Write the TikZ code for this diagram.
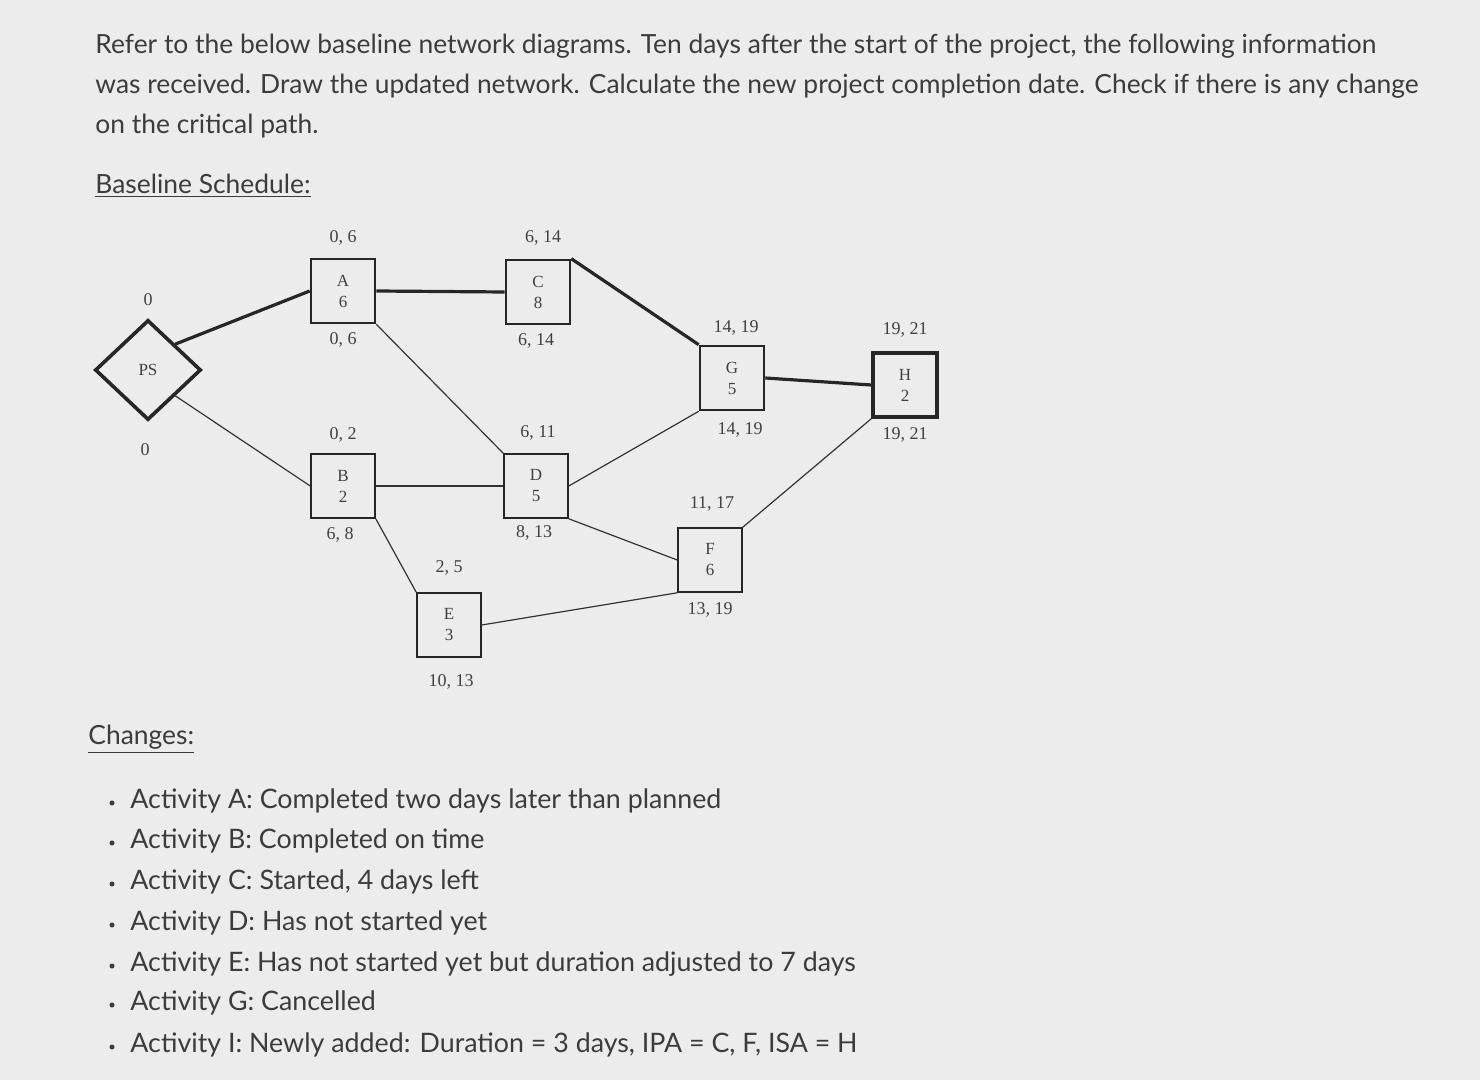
\documentclass[tikz,border=0pt]{standalone}
\usepackage{fontspec}
\setmainfont{Lato}
\newfontfamily\netfont{Liberation Serif}
\usetikzlibrary{shapes.geometric}
\definecolor{bg}{RGB}{236,236,236}
\definecolor{txt}{RGB}{60,60,60}
\tikzset{
  para/.style={anchor=west,inner sep=0pt,text=txt,font=\fontsize{13.2}{15}\selectfont},
  bul/.style={anchor=west,inner sep=0pt,text=txt,font=\fontsize{13.4}{15}\selectfont},
  actbox/.style={draw=black!85,line width=1.3pt,minimum size=32pt,inner sep=0pt,align=center,font=\netfont\fontsize{8.5}{10.5}\selectfont,text=black!75},
  thinbox/.style={actbox,line width=0.8pt},
  lab/.style={font=\netfont\fontsize{9}{10}\selectfont,text=black!75,inner sep=0pt},
  thickedge/.style={line width=1.6pt,black!85},
  thinedge/.style={line width=0.6pt,black!80}
}
\begin{document}
\begin{tikzpicture}[x=0.5pt,y=-0.5pt]
\useasboundingbox[fill=bg] (0,0) rectangle (1480,1080);
\node[para] (p1) at (95,46) {Refer to the below baseline network diagrams. Ten days after the start of the project, the following information};
\node[para] (p2) at (95,86) {was received. Draw the updated network. Calculate the new project completion date. Check if there is any change};
\node[para] (p3) at (95,126) {on the critical path.};
\node[para] (bs) at (95,186) {\underline{Baseline Schedule:}};

% nodes
\node[diamond,draw=black!85,line width=1.8pt,minimum width=53pt,minimum height=50pt,inner sep=0pt,font=\netfont\fontsize{8.5}{10}\selectfont,text=black!75] (PS) at (148,370) {PS};
\node[actbox] (A) at (343,291) {A\\6};
\node[actbox] (C) at (538,292) {C\\8};
\node[actbox] (G) at (732,378) {G\\5};
\node[actbox,line width=1.8pt] (H) at (905,385) {H\\2};
\node[thinbox] (B) at (343,486) {B\\2};
\node[thinbox] (D) at (536,486) {D\\5};
\node[thinbox] (F) at (710,560) {F\\6};
\node[thinbox] (E) at (449,625) {E\\3};

% labels
\node[lab] (ps1) at (148,300) {0};
\node[lab] (ps2) at (145,450) {0};
\node[lab] (a1) at (343,238) {0, 6};
\node[lab] (a2) at (343,340) {0, 6};
\node[lab] (c1) at (543,238) {6, 14};
\node[lab] (c2) at (536,341) {6, 14};
\node[lab] (g1) at (736,328) {14, 19};
\node[lab] (g2) at (740,430) {14, 19};
\node[lab] (h1) at (905,330) {19, 21};
\node[lab] (h2) at (905,435) {19, 21};
\node[lab] (b1) at (343,435) {0, 2};
\node[lab] (b2) at (340,535) {6, 8};
\node[lab] (d1) at (538,433) {6, 11};
\node[lab] (d2) at (534,533) {8, 13};
\node[lab] (f1) at (712,504) {11, 17};
\node[lab] (f2) at (710,610) {13, 19};
\node[lab] (e1) at (449,568) {2, 5};
\node[lab] (e2) at (451,682) {10, 13};

% edges
\draw[thickedge] (PS.north east) -- (A.west);
\draw[thinedge] (PS.south east) -- (B.west);
\draw[thickedge] (A.east) -- (C.west);
\draw[thinedge] (A.south east) -- (D.north west);
\draw[thickedge] (C.north east) -- (G.north west);
\draw[thinedge] (B.east) -- (D.west);
\draw[thinedge] (B.south east) -- (E.north west);
\draw[thinedge] (D.east) -- (G.south west);
\draw[thinedge] (D.south east) -- (F.west);
\draw[thinedge] (E.east) -- (F.south west);
\draw[thickedge] (G.east) -- (H.west);
\draw[thinedge] (F.north east) -- (H.south west);

\node[para] (ch) at (88,739) {\underline{Changes:}};
\foreach \y/\t [count=\i] in {
 801/{Activity A: Completed two days later than planned},
 841/{Activity B: Completed on time},
 882/{Activity C: Started, 4 days left},
 923/{Activity D: Has not started yet},
 964/{Activity E: Has not started yet but duration adjusted to 7 days},
 1003/{Activity G: Cancelled},
 1045/{Activity I: Newly added: Duration = 3 days, IPA = C, F, ISA = H}}{
  \node[bul] (bt\i) at (130,\y) {\t};
  \fill[txt] (112,\y+2) circle (2.5);
}
\end{tikzpicture}
\end{document}
